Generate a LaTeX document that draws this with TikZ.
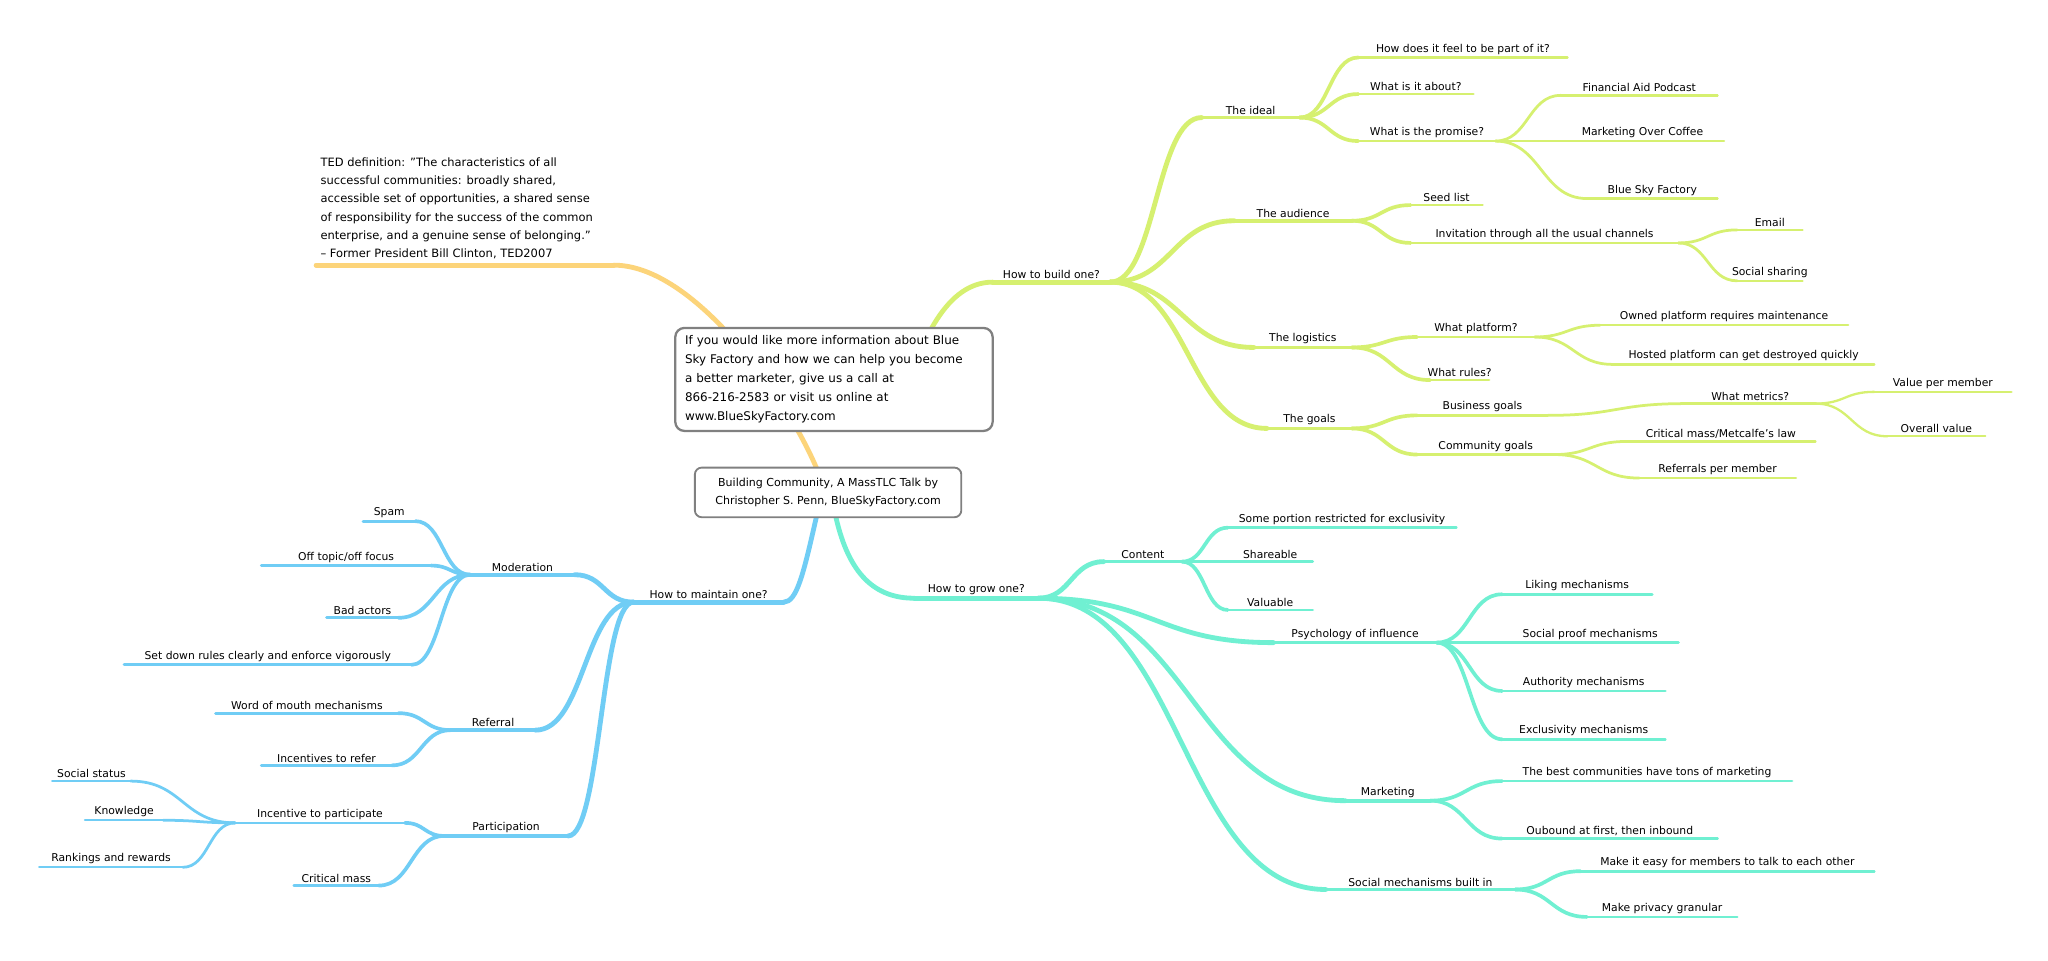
\documentclass[tikz,border=0pt]{standalone}
\usepackage{fontspec}
\setmainfont{DejaVu Sans}
\usetikzlibrary{calc}
\definecolor{yg}{RGB}{214,240,112}
\definecolor{tl}{RGB}{112,240,210}
\definecolor{bl}{RGB}{112,205,245}
\definecolor{org}{RGB}{252,212,122}
\newcommand{\mmn}[6]{%
 \coordinate (#1-l) at (#2,#4); \coordinate (#1-r) at (#3,#4);
 \draw[#6,line cap=round] (#1-l) -- (#1-r);
 \node[lbl,anchor=south] (#1) at ({(#2+#3)/2},#4) {#5};}
\newcommand{\mml}[3]{\draw[#1,line cap=round] let \p1=(#2), \p2=(#3) in (\p1) .. controls ({0.5*\x1+0.5*\x2},\y1) and ({0.5*\x1+0.5*\x2},\y2) .. (\p2);}
\begin{document}
\begin{tikzpicture}[x=0.02cm,y=-0.02cm,
 lbl/.style={font=\fontsize{4.7}{5.6}\selectfont,inner sep=1.2pt},
 A/.style={line width=2.1pt}, B/.style={line width=1.6pt}, C/.style={line width=1.2pt}, D/.style={line width=1pt}]
\useasboundingbox[fill=white] (0,0) rectangle (1568,735);
% root
\coordinate (rt-gt) at (690,310); \coordinate (rt-ot) at (625,358);
\coordinate (rt-tb) at (640,396); \coordinate (rt-bb) at (625,396);
% orange
\node[lbl,anchor=south west,align=left,font=\fontsize{5}{8}\selectfont] (ted) at (243,201) {TED definition: "The characteristics of all\\successful communities: broadly shared,\\accessible set of opportunities, a shared sense\\of responsibility for the success of the common\\enterprise, and a genuine sense of belonging."\\-- Former President Bill Clinton, TED2007};
\coordinate (ted-l) at (242,203); \coordinate (ted-r) at (470,203);
\draw[org,A,line cap=round] (ted-l) -- (ted-r);
\draw[org,A,line cap=round] (rt-ot) .. controls (600,300) and (530,203) .. (ted-r);
% ===== green
\mmn{hb}{760}{850}{216}{How to build one?}{yg,A}
\draw[yg,A,line cap=round] (rt-gt) .. controls (705,260) and (725,216) .. (hb-l);
\mmn{id}{920}{995}{90}{The ideal}{yg,B} \mml{yg,A}{hb-r}{id-l}
\mmn{i1}{1040}{1200}{44}{How does it feel to be part of it?}{yg,C} \mml{yg,B}{id-r}{i1-l}
\mmn{i2}{1040}{1128}{72}{What is it about?}{yg,C} \mml{yg,B}{id-r}{i2-l}
\mmn{i3}{1040}{1145}{108}{What is the promise?}{yg,C} \mml{yg,B}{id-r}{i3-l}
\mmn{p1}{1195}{1315}{73}{Financial Aid Podcast}{yg,D} \mml{yg,C}{i3-r}{p1-l}
\mmn{p2}{1195}{1320}{108}{Marketing Over Coffee}{yg,D} \mml{yg,C}{i3-r}{p2-l}
\mmn{p3}{1215}{1315}{152}{Blue Sky Factory}{yg,D} \mml{yg,C}{i3-r}{p3-l}
\mmn{au}{945}{1035}{169}{The audience}{yg,B} \mml{yg,A}{hb-r}{au-l}
\mmn{a1}{1080}{1135}{157}{Seed list}{yg,C} \mml{yg,B}{au-r}{a1-l}
\mmn{a2}{1080}{1285}{186}{Invitation through all the usual channels}{yg,C} \mml{yg,B}{au-r}{a2-l}
\mmn{e1}{1330}{1380}{176}{Email}{yg,D} \mml{yg,C}{a2-r}{e1-l}
\mmn{e2}{1330}{1380}{215}{Social sharing}{yg,D} \mml{yg,C}{a2-r}{e2-l}
\mmn{lg}{960}{1035}{266}{The logistics}{yg,B} \mml{yg,A}{hb-r}{lg-l}
\mmn{l1}{1085}{1175}{258}{What platform?}{yg,C} \mml{yg,B}{lg-r}{l1-l}
\mmn{l2}{1095}{1140}{291}{What rules?}{yg,C} \mml{yg,B}{lg-r}{l2-l}
\mmn{o1}{1225}{1415}{249}{Owned platform requires maintenance}{yg,D} \mml{yg,C}{l1-r}{o1-l}
\mmn{o2}{1235}{1435}{279}{Hosted platform can get destroyed quickly}{yg,D} \mml{yg,C}{l1-r}{o2-l}
\mmn{gl}{970}{1035}{328}{The goals}{yg,B} \mml{yg,A}{hb-r}{gl-l}
\mmn{g1}{1085}{1185}{318}{Business goals}{yg,C} \mml{yg,B}{gl-r}{g1-l}
\mmn{g2}{1085}{1190}{348}{Community goals}{yg,C} \mml{yg,B}{gl-r}{g2-l}
\mmn{wm}{1290}{1390}{309}{What metrics?}{yg,D} \mml{yg,C}{g1-r}{wm-l}
\mmn{v1}{1435}{1540}{300}{Value per member}{yg,D} \mml{yg,D}{wm-r}{v1-l}
\mmn{v2}{1445}{1520}{334}{Overall value}{yg,D} \mml{yg,D}{wm-r}{v2-l}
\mmn{c1}{1245}{1390}{338}{Critical mass/Metcalfe's law}{yg,D} \mml{yg,C}{g2-r}{c1-l}
\mmn{c2}{1255}{1375}{366}{Referrals per member}{yg,D} \mml{yg,C}{g2-r}{c2-l}
% ===== teal
\mmn{hg}{700}{795}{458}{How to grow one?}{tl,A}
\draw[tl,A,line cap=round] (rt-tb) .. controls (650,440) and (670,458) .. (hg-l);
\mmn{ct}{845}{905}{430}{Content}{tl,B} \mml{tl,A}{hg-r}{ct-l}
\mmn{t1}{940}{1115}{404}{Some portion restricted for exclusivity}{tl,C} \mml{tl,B}{ct-r}{t1-l}
\mmn{t2}{940}{1005}{430}{Shareable}{tl,C} \mml{tl,B}{ct-r}{t2-l}
\mmn{t3}{940}{1005}{467}{Valuable}{tl,C} \mml{tl,B}{ct-r}{t3-l}
\mmn{ps}{975}{1100}{492}{Psychology of influence}{tl,B} \mml{tl,A}{hg-r}{ps-l}
\mmn{s1}{1150}{1265}{455}{Liking mechanisms}{tl,C} \mml{tl,B}{ps-r}{s1-l}
\mmn{s2}{1150}{1285}{492}{Social proof mechanisms}{tl,C} \mml{tl,B}{ps-r}{s2-l}
\mmn{s3}{1150}{1275}{529}{Authority mechanisms}{tl,C} \mml{tl,B}{ps-r}{s3-l}
\mmn{s4}{1150}{1275}{566}{Exclusivity mechanisms}{tl,C} \mml{tl,B}{ps-r}{s4-l}
\mmn{mk}{1030}{1095}{613}{Marketing}{tl,B} \mml{tl,A}{hg-r}{mk-l}
\mmn{m1}{1150}{1372}{598}{The best communities have tons of marketing}{tl,C} \mml{tl,B}{mk-r}{m1-l}
\mmn{m2}{1150}{1315}{642}{Oubound at first, then inbound}{tl,C} \mml{tl,B}{mk-r}{m2-l}
\mmn{sm}{1015}{1160}{681}{Social mechanisms built in}{tl,B} \mml{tl,A}{hg-r}{sm-l}
\mmn{n1}{1210}{1435}{667}{Make it easy for members to talk to each other}{tl,C} \mml{tl,B}{sm-r}{n1-l}
\mmn{n2}{1215}{1330}{702}{Make privacy granular}{tl,C} \mml{tl,B}{sm-r}{n2-l}
% ===== blue
\mmn{hm}{485}{600}{461}{How to maintain one?}{bl,A}
\draw[bl,A,line cap=round] (rt-bb) .. controls (615,440) and (610,461) .. (hm-r);
\mmn{md}{360}{440}{440}{Moderation}{bl,B} \mml{bl,A}{hm-l}{md-r}
\mmn{d1}{278}{318}{399}{Spam}{bl,C} \mml{bl,B}{md-l}{d1-r}
\mmn{d2}{200}{330}{433}{Off topic/off focus}{bl,C} \mml{bl,B}{md-l}{d2-r}
\mmn{d3}{250}{305}{473}{Bad actors}{bl,C} \mml{bl,B}{md-l}{d3-r}
\mmn{d4}{95}{315}{509}{Set down rules clearly and enforce vigorously}{bl,C} \mml{bl,B}{md-l}{d4-r}
\mmn{rf}{345}{410}{559}{Referral}{bl,B} \mml{bl,A}{hm-l}{rf-r}
\mmn{r1}{165}{305}{546}{Word of mouth mechanisms}{bl,C} \mml{bl,B}{rf-l}{r1-r}
\mmn{r2}{200}{300}{586}{Incentives to refer}{bl,C} \mml{bl,B}{rf-l}{r2-r}
\mmn{pa}{340}{435}{640}{Participation}{bl,B} \mml{bl,A}{hm-l}{pa-r}
\mmn{q1}{180}{310}{630}{Incentive to participate}{bl,C} \mml{bl,B}{pa-l}{q1-r}
\mmn{q2}{225}{290}{678}{Critical mass}{bl,C} \mml{bl,B}{pa-l}{q2-r}
\mmn{k1}{40}{100}{598}{Social status}{bl,D} \mml{bl,C}{q1-l}{k1-r}
\mmn{k2}{65}{125}{628}{Knowledge}{bl,D} \mml{bl,C}{q1-l}{k2-r}
\mmn{k3}{30}{140}{664}{Rankings and rewards}{bl,D} \mml{bl,C}{q1-l}{k3-r}
% boxes
\node[draw=gray,line width=0.8pt,rounded corners=3pt,fill=white,minimum width=204*0.02cm,minimum height=38*0.02cm,align=center,font=\fontsize{4.8}{7.5}\selectfont] (root) at (634,377) {Building Community, A MassTLC Talk by\\Christopher S. Penn, BlueSkyFactory.com};
\node[draw=gray,line width=1pt,rounded corners=4pt,fill=white,minimum width=243*0.02cm,minimum height=75*0.02cm,align=left,text width=228*0.02cm,font=\fontsize{5.2}{8.3}\selectfont] (info) at (638.5,290.5) {If you would like more information about Blue\\Sky Factory and how we can help you become\\a better marketer, give us a call at\\866-216-2583 or visit us online at\\www.BlueSkyFactory.com};
\end{tikzpicture}
\end{document}
